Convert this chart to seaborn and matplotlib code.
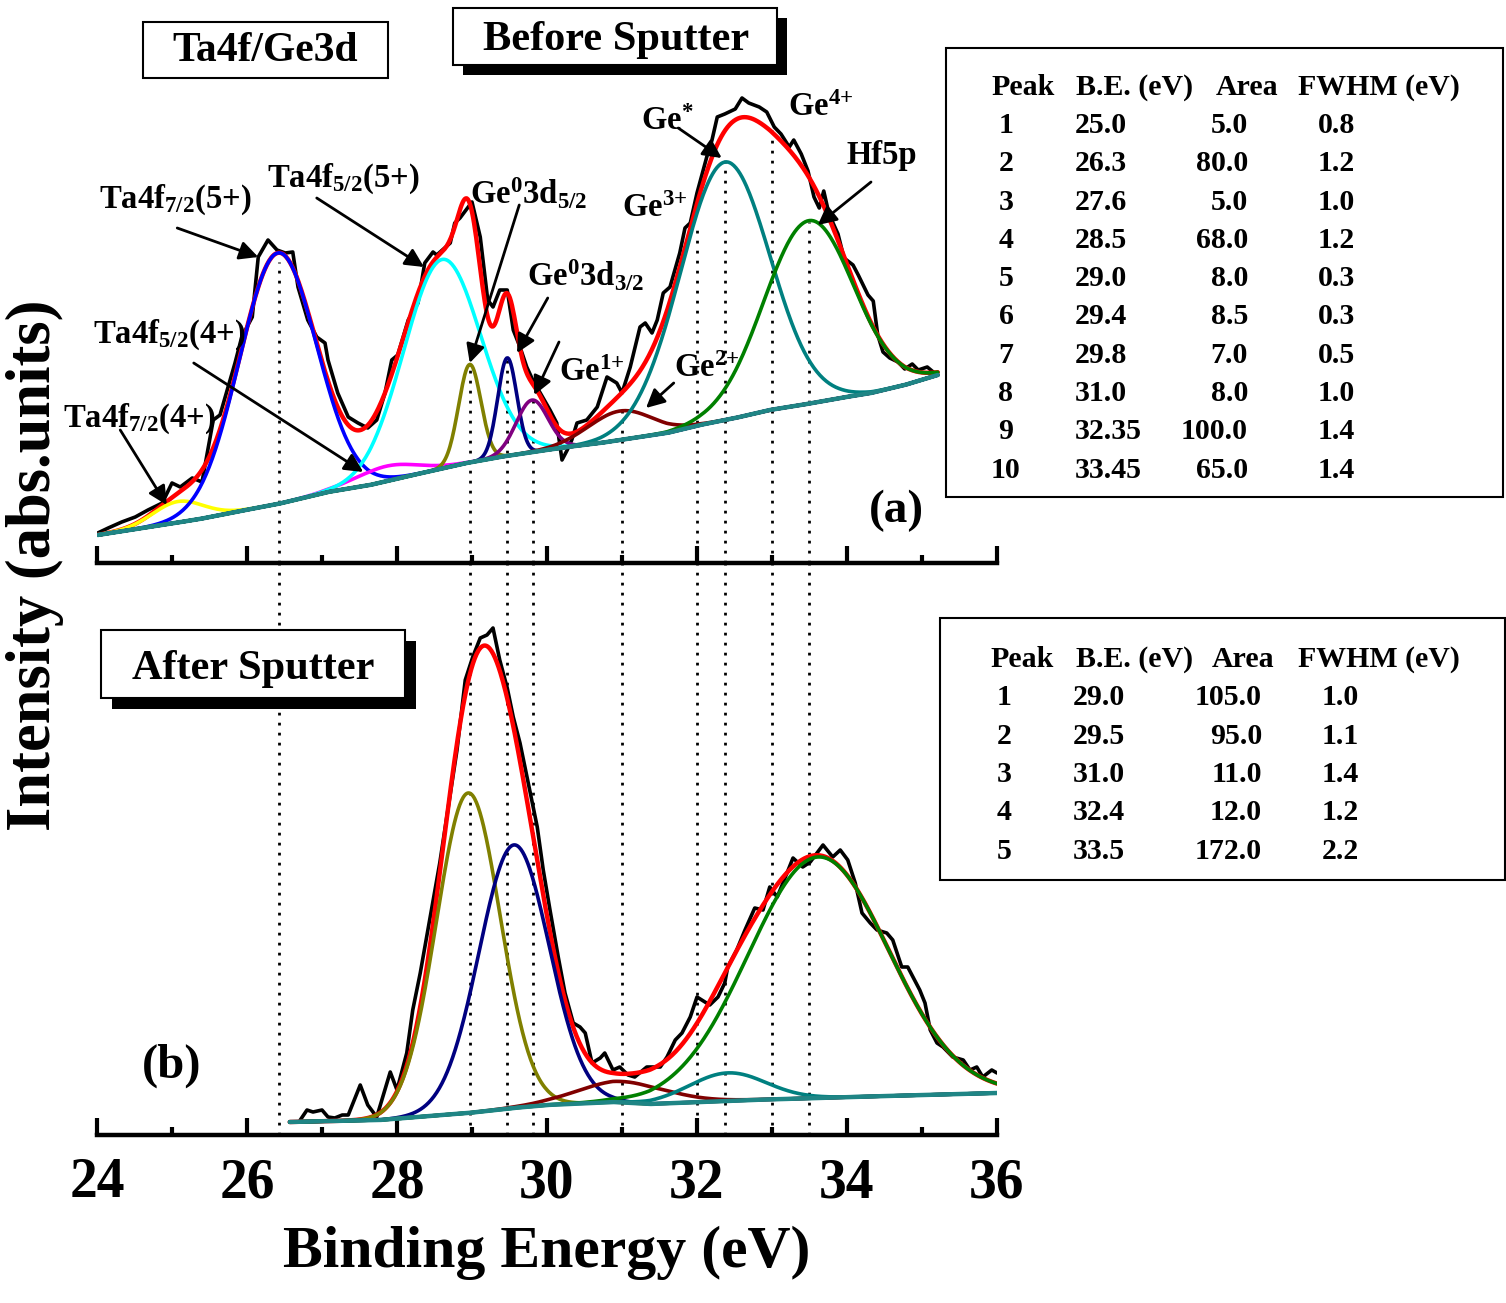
import numpy as np
import pandas as pd
import seaborn as sns
import matplotlib
matplotlib.use('Agg')
import matplotlib.pyplot as plt
from matplotlib.patches import Rectangle

before_energy = [24.01, 24.15, 24.33, 24.51, 24.68, 24.87, 25.00, 25.11, 25.27, 25.40, 25.55, 25.64,
                 25.84, 25.93, 26.07, 26.15, 26.28, 26.40, 26.51, 26.61, 26.68, 26.81, 26.93, 27.04,
                 27.08, 27.21, 27.35, 27.48, 27.61, 27.73, 27.84, 27.93, 28.01, 28.15, 28.28, 28.37,
                 28.48, 28.53, 28.71, 28.77, 28.84, 29.00, 29.11, 29.21, 29.28, 29.37, 29.47, 29.55,
                 29.64, 29.73, 29.81, 29.91, 30.04, 30.13, 30.20, 30.27, 30.33, 30.40, 30.53, 30.67,
                 30.80, 30.93, 31.00, 31.11, 31.24, 31.31, 31.40, 31.47, 31.55, 31.64, 31.77, 31.84,
                 31.91, 32.00, 32.13, 32.20, 32.27, 32.37, 32.51, 32.60, 32.69, 32.83, 32.93, 33.03,
                 33.12, 33.23, 33.29, 33.39, 33.48, 33.56, 33.63, 33.69, 33.76, 33.88, 33.96, 34.08,
                 34.15, 34.28, 34.35, 34.41, 34.48, 34.57, 34.68, 34.77, 34.87, 34.95, 35.07, 35.15,
                 35.21]
before_counts = [30, 35, 41, 46, 53, 60, 80, 76, 85, 81, 143, 148,
                 200, 226, 246, 306, 323, 313, 310, 311, 276, 243, 226, 220,
                 203, 170, 146, 140, 135, 143, 170, 203, 208, 243, 260, 300,
                 311, 308, 320, 340, 345, 361, 326, 263, 256, 273, 273, 233,
                 216, 196, 183, 170, 153, 140, 103, 113, 123, 140, 143, 156,
                 186, 180, 170, 196, 236, 240, 230, 243, 270, 276, 310, 335,
                 340, 370, 406, 423, 446, 449, 454, 465, 460, 456, 451, 436,
                 429, 416, 423, 409, 392, 366, 355, 372, 349, 329, 305, 298,
                 288, 268, 262, 228, 211, 205, 201, 194, 199, 193, 196, 191,
                 188]
before_bg_energy = [24.01, 24.44, 24.87, 25.37, 25.91, 26.41, 27.08, 27.64, 28.04, 28.57, 28.93, 29.37,
                    29.81, 30.27, 30.71, 31.15, 31.60, 32.04, 32.51, 32.97, 33.39, 33.91, 34.32, 34.77,
                    35.21]
before_bg = [28, 33, 38, 44, 52, 59, 71, 78, 85, 94, 100, 106,
             111, 116, 120, 125, 130, 138, 145, 153, 158, 165, 170, 178,
             188]
# fitted components: centre (eV), height above background, FWHM (eV)
before_center = [25.08, 26.41, 27.85, 28.60, 28.97, 29.47, 29.80, 30.97, 32.37, 33.49]
before_height = [21, 251, 15, 209, 98, 98, 52, 29, 258, 183]
before_fwhm = [0.8, 1.2, 1.0, 1.2, 0.35, 0.3, 0.5, 1.0, 1.4, 1.4]
before_colors = ['#ffff00', '#0000ff', '#ff00ff', '#00ffff', '#808000',
                 '#000080', '#800080', '#800000', '#008080', '#008000']

# ---------------- (b) after sputter
after_energy = [26.71, 26.80, 26.88, 27.00, 27.08, 27.17, 27.27, 27.35, 27.51, 27.61, 27.73, 27.81,
                27.91, 28.00, 28.13, 28.21, 28.31, 28.57, 28.80, 28.91, 29.01, 29.11, 29.20, 29.28,
                29.37, 29.47, 29.55, 29.64, 29.75, 29.87, 29.95, 30.04, 30.15, 30.24, 30.35, 30.44,
                30.51, 30.60, 30.71, 30.77, 30.88, 30.97, 31.08, 31.17, 31.33, 31.51, 31.60, 31.71,
                31.80, 31.91, 32.00, 32.17, 32.28, 32.37, 32.41, 32.53, 32.64, 32.77, 32.88, 32.97,
                33.07, 33.20, 33.28, 33.41, 33.51, 33.68, 33.81, 33.91, 34.01, 34.11, 34.20, 34.31,
                34.40, 34.53, 34.61, 34.73, 34.81, 34.97, 35.04, 35.11, 35.20, 35.28, 35.41, 35.55,
                35.64, 35.73, 35.81, 35.93, 36.00]
after_counts = [15, 25, 23, 25, 18, 17, 20, 20, 50, 30, 18, 38,
                63, 45, 82, 125, 162, 272, 385, 455, 478, 497, 500, 507,
                475, 447, 418, 392, 352, 308, 265, 225, 178, 142, 112, 108,
                102, 72, 77, 82, 65, 68, 60, 58, 68, 68, 78, 95,
                102, 118, 138, 130, 138, 152, 168, 185, 205, 227, 225, 248,
                238, 262, 277, 268, 273, 290, 278, 285, 275, 252, 222, 212,
                205, 202, 195, 168, 168, 145, 132, 105, 92, 88, 78, 75,
                65, 68, 58, 65, 62]
after_bg_energy = [26.57, 27.77, 28.95, 29.55, 30.00, 30.88, 31.37, 32.71, 34.04, 36.00]
after_bg = [13, 15, 22, 27, 30, 33, 31, 35, 38, 42]
after_center = [28.95, 29.56, 31.00, 32.41, 33.62]
after_height = [320, 263, 21, 28, 241]
after_fwhm = [1.0, 1.1, 1.4, 1.2, 2.2]
after_colors = ['#808000', '#000080', '#800000', '#008080', '#008000']

# dotted reference energies (eV) and how high they start in panel (a)
ref_energy = [26.42, 28.97, 29.47, 29.82, 31.0, 32.0, 32.38, 33.0, 33.5]
ref_top = [301, 198, 208, 163, 153, 340, 403, 433, 341]

# fit tables
tab_a_be = ['25.0', '26.3', '27.6', '28.5', '29.0', '29.4', '29.8', '31.0', '32.35', '33.45']
tab_a_area = ['5.0', '80.0', '5.0', '68.0', '8.0', '8.5', '7.0', '8.0', '100.0', '65.0']
tab_a_fwhm = ['0.8', '1.2', '1.0', '1.2', '0.3', '0.3', '0.5', '1.0', '1.4', '1.4']
tab_b_be = ['29.0', '29.5', '31.0', '32.4', '33.5']
tab_b_area = ['105.0', '95.0', '11.0', '12.0', '172.0']
tab_b_fwhm = ['1.0', '1.1', '1.4', '1.2', '2.2']

sns.set_theme(style='white')
plt.rcParams['font.family'] = ['Liberation Serif', 'DejaVu Serif']
plt.rcParams['font.weight'] = 'bold'
plt.rcParams['text.color'] = 'black'
plt.rcParams['axes.labelcolor'] = 'black'
plt.rcParams['xtick.color'] = 'black'
plt.rcParams['xtick.labelcolor'] = 'black'
plt.rcParams['mathtext.fontset'] = 'custom'
plt.rcParams['mathtext.rm'] = 'Liberation Serif:bold'
plt.rcParams['mathtext.it'] = 'Liberation Serif:bold'
plt.rcParams['mathtext.bf'] = 'Liberation Serif:bold'

W, H = 1506, 1303
fig = plt.figure(figsize=(W / 100, H / 100), dpi=100)


def fx(x):
    return x / W


def fy(y):
    return 1 - y / H


ax_a = fig.add_axes([fx(97), fy(563), 900 / W, 543 / H])
ax_b = fig.add_axes([fx(97), fy(1135), 900 / W, 572 / H])


def gauss(e, c, h, fw):
    s = fw / 2.3548
    return h * np.exp(-(e - c) ** 2 / (2 * s ** 2))


def draw_panel(ax, energy, counts, bg_e, bg, centers, heights, fwhms, colors):
    grid = np.linspace(bg_e[0], bg_e[-1], 800)
    base = np.interp(grid, bg_e, bg)
    comps = [gauss(grid, c, h, fw) for c, h, fw in zip(centers, heights, fwhms)]
    total = base + np.sum(comps, axis=0)
    df = pd.DataFrame({'E': energy, 'I': counts})
    sns.lineplot(data=df, x='E', y='I', ax=ax, color='black', lw=2.6, errorbar=None, zorder=3)
    sns.lineplot(x=grid, y=total, ax=ax, color='#ff0000', lw=3.2, errorbar=None, zorder=4)
    for comp, col in zip(comps, colors):
        sns.lineplot(x=grid, y=base + comp, ax=ax, color=col, lw=2.6, errorbar=None, zorder=5)
    sns.lineplot(x=grid, y=base, ax=ax, color='#1f8585', lw=3.2, errorbar=None, zorder=6)


draw_panel(ax_a, before_energy, before_counts, before_bg_energy, before_bg,
           before_center, before_height, before_fwhm, before_colors)
draw_panel(ax_b, after_energy, after_counts, after_bg_energy, after_bg,
           after_center, after_height, after_fwhm, after_colors)

ax_a.set_ylim(0, 543)
ax_b.set_ylim(0, 572)
for e, top in zip(ref_energy, ref_top):
    ax_a.plot([e, e], [0, top], color='black', lw=2, ls=(0, (1, 2.6)), zorder=2)
    ax_b.plot([e, e], [0, 572], color='black', lw=2, ls=(0, (1, 2.6)), zorder=2)

for ax in (ax_a, ax_b):
    ax.set_xlim(24, 36)
    ax.patch.set_alpha(0)
    for side in ('top', 'left', 'right'):
        ax.spines[side].set_visible(False)
    ax.spines['bottom'].set_linewidth(3.2)
    ax.spines['bottom'].set_color('black')
    ax.set_yticks([])
    ax.set_xticks(np.arange(24, 37, 2))
    ax.set_xticks(np.arange(25, 36, 2), minor=True)
    ax.tick_params(axis='x', which='major', direction='in', length=12, width=3, color='black',
                   bottom=True, labelsize=40, pad=16, labelcolor='black')
    ax.tick_params(axis='x', which='minor', direction='in', length=6, width=3, color='black', bottom=True)
    ax.set_ylabel('')
    ax.set_xlabel('')
ax_a.set_xticklabels([])
ax_b.set_xlabel('Binding Energy (eV)', fontsize=43, fontweight='bold', labelpad=12, color='black')

fig.text(fx(35), fy(565), 'Intensity (abs.units)', rotation=90, fontsize=45,
         ha='center', va='center', fontweight='bold', color='black')

# peak labels and arrows in panel (a), given as (energy, intensity)
labels = [
    (r'Ta4f$_{7/2}$(5+)', 25.05, 355),
    (r'Ta4f$_{5/2}$(5+)', 27.29, 376),
    (r'Ge$^{0}$3d$_{5/2}$', 29.76, 359),
    (r'Ge$^{0}$3d$_{3/2}$', 30.51, 277),
    (r'Ge$^{1{+}}$', 30.60, 182),
    (r'Ge$^{2{+}}$', 32.13, 186),
    (r'Ge$^{3{+}}$', 31.44, 346),
    (r'Ge$^{*}$', 31.60, 433),
    (r'Ge$^{4{+}}$', 33.65, 447),
    ('Hf5p', 34.47, 399),
    (r'Ta4f$_{5/2}$(4+)', 24.96, 220),
    (r'Ta4f$_{7/2}$(4+)', 24.57, 136),
]
for s, e, i in labels:
    ax_a.text(e, i, s, ha='center', va='baseline', fontsize=23.5, fontweight='bold', zorder=8,
              color='black')

arrows = [
    ((25.07, 335), (26.15, 306)),
    ((26.93, 365), (28.36, 296)),
    ((29.63, 358), (28.97, 200)),
    ((30.01, 265), (29.60, 210)),
    ((30.16, 221), (29.83, 168)),
    ((31.69, 180), (31.32, 155)),
    ((31.75, 435), (32.33, 405)),
    ((34.32, 381), (33.61, 338)),
    ((25.29, 200), (27.55, 91)),
    ((24.31, 133), (24.93, 58)),
]
for tail, head in arrows:
    ax_a.annotate('', xy=head, xytext=tail, zorder=8,
                  arrowprops=dict(arrowstyle='-|>', color='black', lw=2, mutation_scale=28,
                                  shrinkA=0, shrinkB=0))

ax_a.text(34.66, 41, '(a)', fontsize=34, ha='center', va='baseline', fontweight='bold', color='black')
ax_b.text(25.0, 57, '(b)', fontsize=35, ha='center', va='baseline', fontweight='bold', color='black')


def box(x0, y0, x1, y1, shadow=0, lw=1.5):
    if shadow:
        fig.add_artist(Rectangle((fx(x0 + shadow), fy(y1 + shadow)), (x1 - x0) / W, (y1 - y0) / H,
                                 transform=fig.transFigure, fc='black', ec='black', lw=0, zorder=9))
    fig.add_artist(Rectangle((fx(x0), fy(y1)), (x1 - x0) / W, (y1 - y0) / H,
                             transform=fig.transFigure, fc='white', ec='black', lw=lw, zorder=10))


box(143, 22, 388, 78)
box(453, 8, 777, 65, shadow=10)
box(101, 630, 405, 698, shadow=11)
box(946, 48, 1503, 497)
box(940, 618, 1505, 880)

fig.text(fx(265), fy(61), 'Ta4f/Ge3d', fontsize=30, ha='center', va='baseline', zorder=11, color='black')
fig.text(fx(616), fy(50), 'Before Sputter', fontsize=30.5, ha='center', va='baseline', zorder=11,
         color='black')
fig.text(fx(253), fy(679), 'After Sputter', fontsize=30.5, ha='center', va='baseline', zorder=11,
         color='black')


def table(y_head, y0, dy, x_cols, be, area, fw):
    kw = dict(fontsize=21.5, va='baseline', zorder=11, color='black')
    for s, x in zip(['Peak', 'B.E. (eV)', 'Area', 'FWHM (eV)'], x_cols[:4]):
        fig.text(fx(x), fy(y_head), s, ha='left', **kw)
    for k in range(len(be)):
        y = fy(y0 + k * dy)
        fig.text(fx(x_cols[4]), y, str(k + 1), ha='center', **kw)
        fig.text(fx(x_cols[5]), y, be[k], ha='left', **kw)
        fig.text(fx(x_cols[6]), y, area[k], ha='right', **kw)
        fig.text(fx(x_cols[7]), y, fw[k], ha='left', **kw)


table(95, 133, 38.3, [991, 1076, 1216, 1298, 1006, 1075, 1248, 1318], tab_a_be, tab_a_area, tab_a_fwhm)
table(667, 705, 38.5, [990, 1076, 1212, 1298, 1004, 1073, 1262, 1322], tab_b_be, tab_b_area, tab_b_fwhm)

fig.savefig('out.png', dpi=100)
